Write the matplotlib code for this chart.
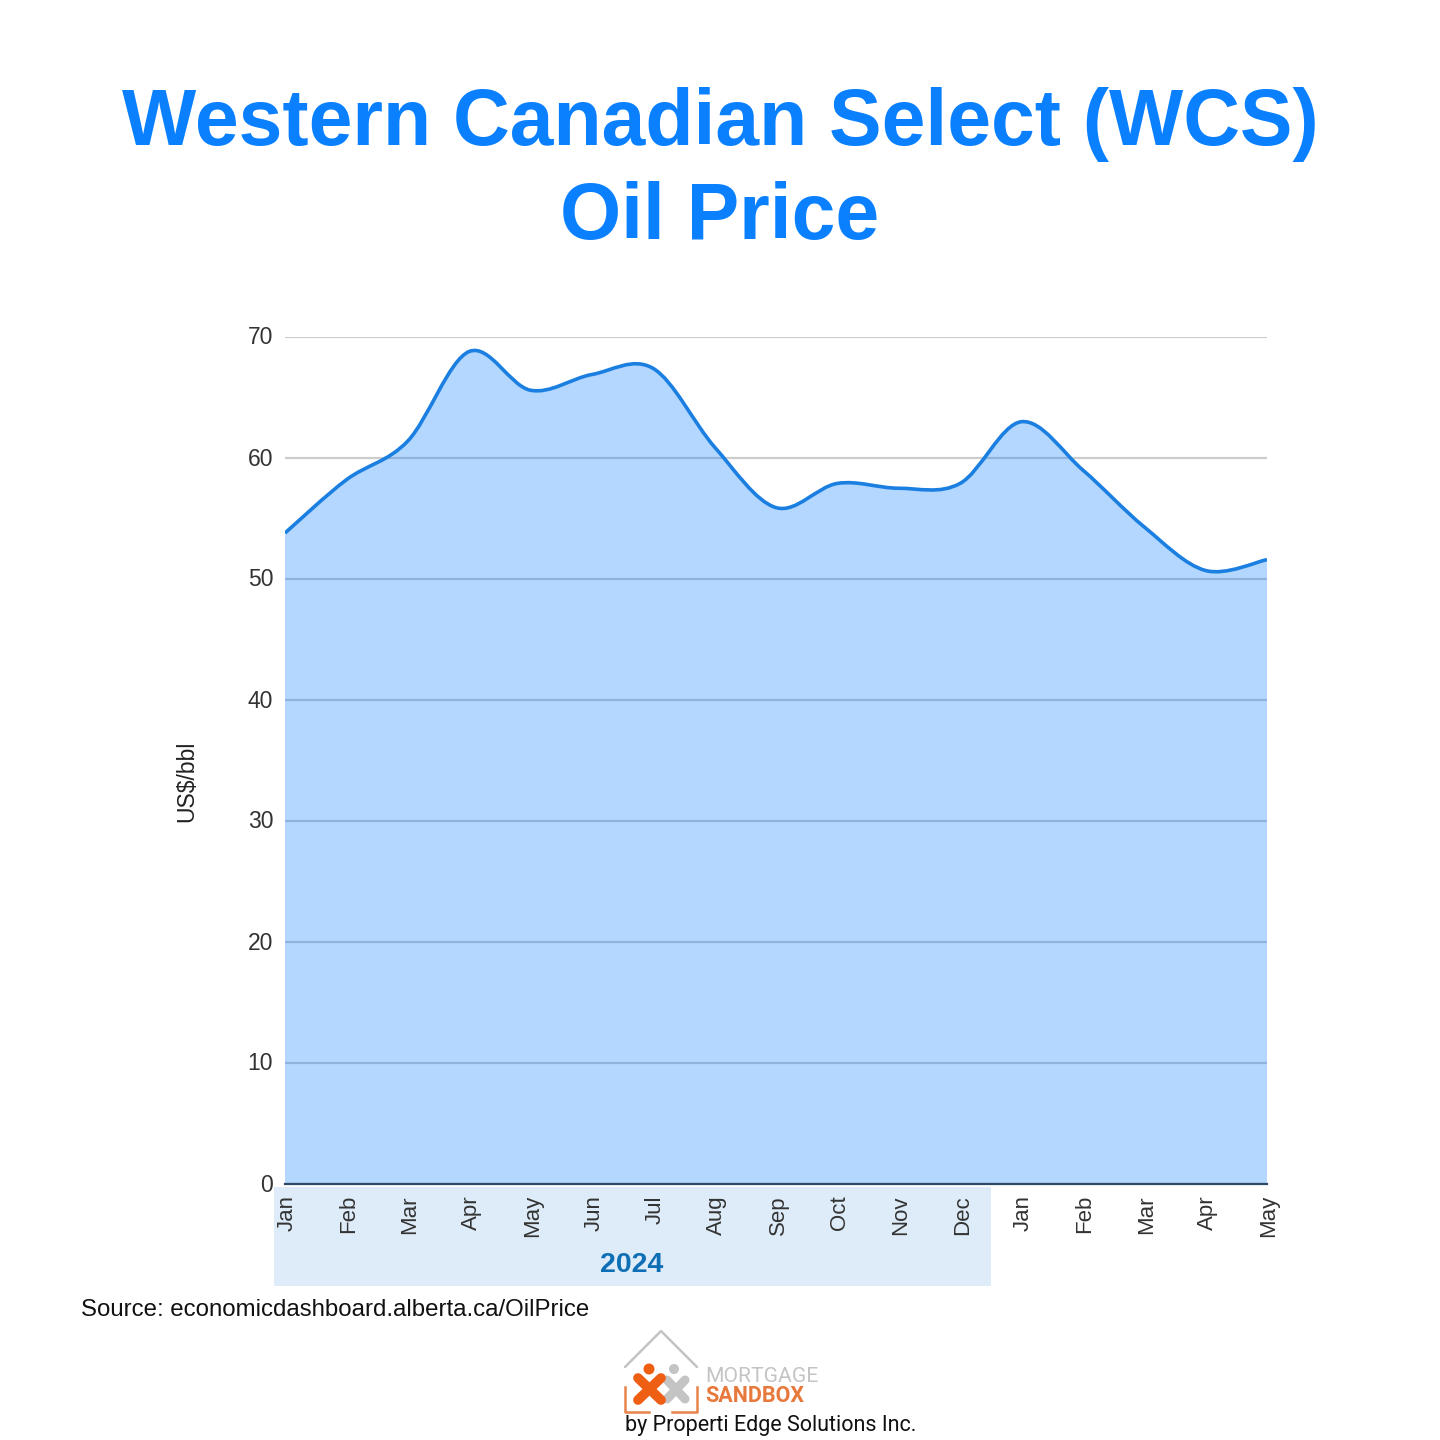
import matplotlib
matplotlib.use("Agg")
import matplotlib.pyplot as plt
from matplotlib.path import Path
from matplotlib.patches import PathPatch, Rectangle, Circle
from matplotlib.transforms import ScaledTranslation

plt.rcParams['font.family'] = ['Liberation Sans', 'DejaVu Sans']

months = ['Jan', 'Feb', 'Mar', 'Apr', 'May', 'Jun', 'Jul', 'Aug', 'Sep', 'Oct', 'Nov', 'Dec',
          'Jan', 'Feb', 'Mar', 'Apr', 'May']
prices = [53.8, 58.2, 61.4, 68.8, 65.6, 66.9, 67.4, 60.9, 55.9, 57.9, 57.5, 57.9,
          63.0, 59.0, 54.3, 50.7, 51.6]
yticks = [0, 10, 20, 30, 40, 50, 60, 70]

BLUE = '#0a80ff'
LINE = '#1a7fe0'


def smooth_vertices(x, y):
    # bezier segments through the points, like the spreadsheet "smooth" option
    verts = [(x[0], y[0])]
    codes = [Path.MOVETO]
    n = len(x)
    for i in range(n - 1):
        prev = max(i - 1, 0)
        nxt = min(i + 2, n - 1)
        verts.append((x[i] + (x[i + 1] - x[prev]) / 6, y[i] + (y[i + 1] - y[prev]) / 6))
        verts.append((x[i + 1] - (x[nxt] - x[i]) / 6, y[i + 1] - (y[nxt] - y[i]) / 6))
        verts.append((x[i + 1], y[i + 1]))
        codes += [Path.CURVE4] * 3
    return verts, codes


fig = plt.figure(figsize=(14.4, 14.4), dpi=100, facecolor='white')

# page overlay in pixel coordinates for the band, titles and logo
page = fig.add_axes([0, 0, 1, 1], zorder=0)
page.set_xlim(0, 1440)
page.set_ylim(1440, 0)
page.axis('off')

page.text(720, 124, 'Western Canadian Select (WCS)', color=BLUE, fontsize=56.6, fontweight='bold',
          ha='center', va='center')
page.text(720, 219, 'Oil Price', color=BLUE, fontsize=56.6, fontweight='bold', ha='center', va='center')

page.add_patch(Rectangle((274, 1187), 717, 99, facecolor='#deebf8', edgecolor='none'))
page.text(632, 1265, '2024', color='#0f6fb5', fontsize=20.5, fontweight='bold', ha='center', va='center')
page.text(81, 1310, 'Source: economicdashboard.alberta.ca/OilPrice', color='#111111', fontsize=17.25,
          ha='left', va='center')
page.text(187, 781, 'US$/bbl', color='#222222', fontsize=16.5, rotation=90, ha='center', va='center')

# logo
GREY = '#c4c4c4'
ORANGE = '#ee5f14'
page.plot([625, 661, 697], [1367, 1331, 1367], color=GREY, lw=1.8, solid_capstyle='round')
page.plot([625, 625, 649], [1387, 1412, 1412], color='#e8834a', lw=1.8)
page.plot([672, 697, 697], [1412, 1412, 1387], color='#e8834a', lw=1.8)
page.plot([667, 685], [1380, 1399], color=GREY, lw=6.5, solid_capstyle='round')
page.plot([685, 667], [1380, 1399], color=GREY, lw=6.5, solid_capstyle='round')
page.add_patch(Circle((674, 1369), 5, facecolor=GREY, edgecolor='none'))
page.plot([638, 661], [1378, 1400], color=ORANGE, lw=7, solid_capstyle='round')
page.plot([661, 638], [1378, 1400], color=ORANGE, lw=7, solid_capstyle='round')
page.add_patch(Circle((649, 1369), 5.5, facecolor=ORANGE, edgecolor='none'))
page.text(705, 1376, 'MORTGAGE', color='#c4c4c4', fontsize=15.2, ha='left', va='center', family='Roboto')
page.text(705, 1396, 'SANDBOX', color='#e8793c', fontsize=15.5, fontweight='bold', ha='left', va='center',
          family='Roboto')
page.text(625, 1426, 'by Properti Edge Solutions Inc.', color='#111111', fontsize=15.5, ha='left', va='center',
          family='Roboto')

# chart
ax = fig.add_axes([285 / 1440, 1 - 1184 / 1440, 982 / 1440, 847 / 1440], zorder=1)
ax.patch.set_alpha(0)
x = list(range(len(months)))
ax.set_xlim(0, len(months) - 1)
ax.set_ylim(0, 70)
ax.set_xticks(x)
ax.set_xticklabels(months, rotation=90, fontsize=16, color='#333333')
ax.set_yticks(yticks)
ax.tick_params(axis='y', length=0, pad=8.5, labelsize=16.5, labelcolor='#333333')
ax.tick_params(axis='x', length=0, pad=8)
ax.grid(axis='y', color='#cccccc', lw=1.6, zorder=1)
ax.set_axisbelow(True)
for s in ['top', 'right', 'left']:
    ax.spines[s].set_visible(False)
ax.spines['bottom'].set_color('#2f4a68')
ax.spines['bottom'].set_linewidth(1.6)
ax.spines['bottom'].set_zorder(5)

# nudge tick labels a couple of pixels
for lab in ax.get_xticklabels():
    lab.set_transform(lab.get_transform() + ScaledTranslation(2 / 100, 0, fig.dpi_scale_trans))
for lab in ax.get_yticklabels():
    lab.set_transform(lab.get_transform() + ScaledTranslation(0, 1.5 / 100, fig.dpi_scale_trans))

verts, codes = smooth_vertices(x, prices)
fill_verts = verts + [(x[-1], 0), (x[0], 0), (x[0], prices[0])]
fill_codes = codes + [Path.LINETO, Path.LINETO, Path.CLOSEPOLY]
ax.add_patch(PathPatch(Path(fill_verts, fill_codes), facecolor=BLUE, alpha=0.31, edgecolor='none', zorder=2))
ax.add_patch(PathPatch(Path(verts, codes), facecolor='none', edgecolor=LINE, lw=2.6, zorder=3))

fig.savefig('out.png', dpi=100)
